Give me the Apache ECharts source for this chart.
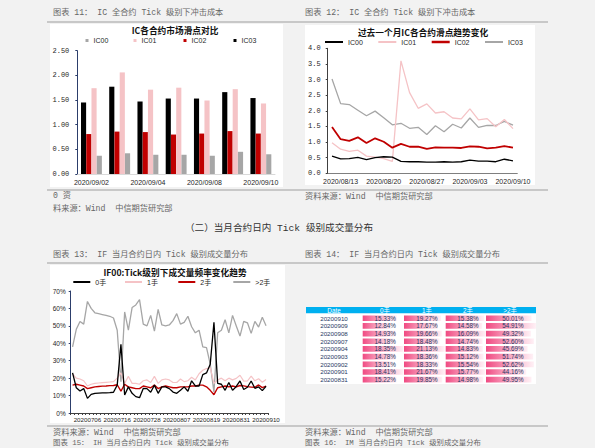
<!DOCTYPE html>
<html><head><meta charset="utf-8">
<script src="https://cdn.jsdelivr.net/npm/echarts/dist/echarts.min.js"></script>
<style>
html,body{margin:0;padding:0;}
body{width:595px;height:448px;background:#f2f2f2;position:relative;overflow:hidden;}
.t{position:absolute;white-space:pre;font-family:'Liberation Mono','Noto Sans CJK SC',monospace;font-size:8.2px;line-height:10px;color:#666;}
.h{font-size:9.6px;color:#333;line-height:12px;}
.cut{font-size:7.4px;line-height:8px;}
.ln{position:absolute;left:47px;width:501px;height:2px;background:#c8c8c8;}
.box{position:absolute;background:#fff;}
</style></head>
<body>
<div class="t" style="left:53px;top:8px">图表 11： IC 全合约 Tick 级别下冲击成本</div>
<div class="t" style="left:305px;top:8px">图表 12： IC 全合约 Tick 级别下冲击成本</div>
<div class="ln" style="top:21px"></div>
<div class="box" id="c1" style="left:50px;top:24px;width:233px;height:163px"></div>
<div class="box" id="c2" style="left:305px;top:25px;width:230px;height:160px"></div>
<div class="ln" style="top:189px"></div>
<div class="t" style="left:53px;top:191px">0 资</div>
<div class="t" style="left:53px;top:204px">料来源：Wind  中信期货研究部</div>
<div class="t" style="left:305px;top:192px">资料来源：Wind  中信期货研究部</div>
<div class="t h" style="left:185px;top:223px">（二）当月合约日内 Tick 级别成交量分布</div>
<div class="t" style="left:53px;top:250px">图表 13： IF 当月合约日内 Tick 级别成交量分布</div>
<div class="t" style="left:305px;top:250px">图表 14： IF 当月合约日内 Tick 级别成交量分布</div>
<div class="ln" style="top:262px"></div>
<div class="box" id="c3" style="left:50px;top:265px;width:235px;height:158px"></div>
<div class="box" id="c4" style="left:306px;top:307px;width:230px;height:77px"></div>
<div class="ln" style="top:425px"></div>
<div class="t" style="left:53px;top:428px">资料来源：Wind  中信期货研究部</div>
<div class="t" style="left:305px;top:428px">资料来源：Wind  中信期货研究部</div>
<div class="t cut" style="left:53px;top:439px">图表 15： IH 当月合约日内 Tick 级别成交量分布</div>
<div class="t cut" style="left:305px;top:439px">图表 16： IM 当月合约日内 Tick 级别成交量分布</div>
<script>
// ---------- Chart 1 data ----------
const cats1 = ['2020/09/02','2020/09/03','2020/09/04','2020/09/07','2020/09/08','2020/09/09','2020/09/10'];
const bar_IC00 = [0.37, 0.42, 0.39, 0.39, 0.37, 0.45, 0.40];
const bar_IC01 = [1.74, 2.06, 1.71, 1.75, 1.49, 1.72, 1.43];
const bar_IC02 = [0.81, 0.86, 0.85, 0.80, 0.82, 0.87, 0.82];
const bar_IC03 = [1.45, 1.77, 1.47, 1.53, 1.53, 1.66, 1.54];

// ---------- Chart 2 data ----------
const dates2 = ['2020/08/12','2020/08/13','2020/08/14','2020/08/17','2020/08/18','2020/08/19','2020/08/20','2020/08/21','2020/08/24','2020/08/25','2020/08/26','2020/08/27','2020/08/28','2020/08/31','2020/09/01','2020/09/02','2020/09/03','2020/09/04','2020/09/07','2020/09/08','2020/09/09','2020/09/10'];
const line_IC00 = [0.55,0.46,0.47,0.51,0.44,0.50,0.53,0.52,0.38,0.37,0.37,0.36,0.36,0.37,0.36,0.37,0.42,0.39,0.39,0.37,0.45,0.40];
const line_IC01 = [0.98,0.77,0.70,0.74,0.55,0.52,0.47,0.38,3.60,2.58,2.08,2.22,1.93,1.97,1.77,1.74,2.06,1.71,1.75,1.49,1.72,1.43];
const line_IC02 = [1.48,1.09,1.04,1.15,0.97,1.12,1.01,0.82,0.94,0.85,0.85,0.78,0.83,0.82,0.82,0.81,0.86,0.85,0.80,0.82,0.87,0.82];
const line_IC03 = [3.02,2.23,2.20,2.02,1.84,1.99,1.78,1.55,1.60,1.44,1.47,1.24,1.52,1.33,1.57,1.45,1.77,1.47,1.53,1.53,1.66,1.54];

// ---------- Chart 3 data ----------
const dates3 = ['20200630','20200701','20200702','20200703','20200706','20200707','20200708','20200709','20200710','20200713','20200714','20200715','20200716','20200717','20200720','20200721','20200722','20200723','20200724','20200727','20200728','20200729','20200730','20200731','20200803','20200804','20200805','20200806','20200807','20200810','20200811','20200812','20200813','20200814','20200817','20200818','20200819','20200820','20200821','20200824','20200825','20200826','20200827','20200828','20200831','20200901','20200902','20200903','20200904','20200907','20200908','20200909','20200910'];
const hand0 = [23,14.5,12.6,14,8.4,10.7,11.3,11.4,11.5,11.6,11.7,11.9,16,39.4,10.3,15,11.3,9.4,8.8,14.1,14,11.9,16,11.3,15,15,14,12,11.3,13,15,12.5,18.5,15.5,15.5,22,23,28,52,17,16.5,13,17.5,13,15.22,18.41,13.51,14.78,18.35,14.18,14.93,12.84,15.33];
const hand1 = [22.5,20,19.5,18.5,15.5,16.5,17,17.2,17.4,17.6,17.8,18,20,23,17,21,17,17,16.5,18.5,19,17.5,21,17,19,19.5,19,17.5,17.5,19.5,18,18.5,20.5,19,22.5,24.5,25.5,26,17,19,20,18.5,20,19,19.85,21.67,18.33,18.36,21.13,18.48,19.66,17.67,19.27];
const hand2 = [16,16.5,16,15.5,14,14.5,15,15.2,15.4,15.5,15.7,15.8,16.2,12.5,16.5,15,14.5,14,14,15.5,15,14.5,16,14,15,15.5,15,14.5,14.5,15,15,15,15.5,15.5,16,16,15,13,10.5,14.5,15,15.5,15,15.5,14.98,15.77,15.54,15.12,14.83,14.74,16.09,14.58,15.38];
const handMore = [38,48,52.5,51,64,60,57.5,57,56.5,56,55.5,54.5,47.5,18,58,47.5,60.5,62,65,51,50,56,47,59.5,50.5,50,50.5,53,57,51,52,55.5,49.5,46,47.5,38,37.5,28,12,46,47.5,53.5,46,56,49.95,44.16,52.62,51.74,45.69,52.60,49.32,54.91,50.01];

// ---------- Table data ----------
const tblHeader = ['Date','0手','1手','2手','>2手'];
const tblDates = ['20200910','20200909','20200908','20200907','20200904','20200903','20200902','20200901','20200831'];
const tbl0 = [15.33,12.84,14.93,14.18,18.35,14.78,13.51,18.41,15.22];
const tbl1 = [19.27,17.67,19.66,18.48,21.13,18.36,18.33,21.67,19.85];
const tbl2 = [15.38,14.58,16.09,14.74,14.83,15.12,15.54,15.77,14.98];
const tblMore = [50.01,54.91,49.32,52.60,45.69,51.74,52.62,44.16,49.95];

const SANS = "'Liberation Sans','Noto Sans CJK SC',sans-serif";
const MONO = "'Liberation Mono','Noto Sans CJK SC',monospace";
const CJK = "'Noto Sans CJK SC',sans-serif";
const BLACK='#000000', PINK='#f5c3c6', RED='#c00000', GRAY='#a6a6a6', NAVY='#2c3e6b';

function leg(name, left, top, w, h){
  return {data:[name], left:left, top:top, icon:'rect', itemWidth:w, itemHeight:h, padding:0, itemGap:0,
    selectedMode:false, itemStyle:{borderWidth:0},
    textStyle:{fontSize:7, color:'#262626', fontFamily:SANS}};
}
function titleOf(text, cx, top){
  return {text:text, left:cx, top:top, textAlign:'center', padding:0,
    textStyle:{fontSize:8.7, fontWeight:'bold', color:'#111', fontFamily:CJK}};
}

// ---------- Chart 1 ----------
const ch1 = echarts.init(document.getElementById('c1'), null, {renderer:'svg'});
ch1.setOption({
  animation:false,
  title: titleOf('IC各合约市场滑点对比', 125, 2),
  legend:[leg('IC00',35.5,13,3,3), leg('IC01',83.5,13,3,3), leg('IC02',133.5,13,3,3), leg('IC03',183.5,13,3,3)],
  grid:{left:27.3, right:8, top:26.7, bottom:13, outerBoundsMode:'none'},
  xAxis:{type:'category', data:cats1, axisLine:{lineStyle:{color:'#d9d9d9'}}, axisTick:{show:false},
    axisLabel:{interval:1, fontSize:7, color:'#262626', margin:5, fontFamily:SANS}},
  yAxis:{type:'value', min:0, max:2.5, interval:0.5, splitLine:{show:false},
    axisLine:{show:true, lineStyle:{color:NAVY}}, axisTick:{show:true, length:2, lineStyle:{color:NAVY}},
    axisLabel:{formatter:v=>v.toFixed(2), fontSize:7, color:'#262626', margin:8, fontFamily:MONO}},
  series:[
    {name:'IC03', type:'bar', data:bar_IC03, itemStyle:{color:BLACK}, barGap:'2%', barCategoryGap:'26%'},
    {name:'IC02', type:'bar', data:bar_IC02, itemStyle:{color:RED}, barGap:'2%', barCategoryGap:'26%'},
    {name:'IC01', type:'bar', data:bar_IC01, itemStyle:{color:PINK}, barGap:'2%', barCategoryGap:'26%'},
    {name:'IC00', type:'bar', data:bar_IC00, itemStyle:{color:GRAY}, barGap:'2%', barCategoryGap:'26%'}
  ]
});

// ---------- Chart 2 ----------
function lineS(name, data, color, w){
  return {name:name, type:'line', data:data, symbol:'none', itemStyle:{color:color}, lineStyle:{color:color, width:w}};
}
const ch2 = echarts.init(document.getElementById('c2'), null, {renderer:'svg'});
ch2.setOption({
  animation:false,
  title: titleOf('过去一个月IC各合约滑点趋势变化', 118, 3),
  legend:[leg('IC00',20,13.5,18,2), leg('IC01',73.3,13.5,18,2), leg('IC02',126.7,13.5,18,2.5), leg('IC03',180,13.5,18,2)],
  grid:{left:22.7, right:17.7, top:23.3, bottom:11.7, outerBoundsMode:'none'},
  xAxis:{type:'category', data:dates2, boundaryGap:true, axisLine:{lineStyle:{color:'#7f7f7f'}}, axisTick:{show:false},
    axisLabel:{interval:(i)=> (i-1)%5===0, fontSize:7, color:'#262626', margin:5, fontFamily:SANS}},
  yAxis:{type:'value', min:0, max:4, interval:0.5, splitLine:{show:false},
    axisLine:{show:true, lineStyle:{color:'#404040'}}, axisTick:{show:true, length:2, lineStyle:{color:'#404040'}},
    axisLabel:{formatter:v=>v.toFixed(1), fontSize:7, color:'#262626', margin:7, fontFamily:MONO}},
  series:[
    lineS('IC03', line_IC03, GRAY, 1.3),
    lineS('IC01', line_IC01, PINK, 1.3),
    lineS('IC02', line_IC02, RED, 1.8),
    lineS('IC00', line_IC00, BLACK, 1.3)
  ]
});

// ---------- Chart 3 ----------
const ch3 = echarts.init(document.getElementById('c3'), null, {renderer:'svg'});
ch3.setOption({
  animation:false,
  title: titleOf('IF00:Tick级别下成交量频率变化趋势', 125, 3),
  legend:[leg('0手',23.3,13.5,17,2), leg('1手',75,13.5,17,2), leg('2手',128.3,13.5,17,2), leg('>2手',183.3,13.5,17,2)],
  grid:{left:20.7, right:17.1, top:26, bottom:10, outerBoundsMode:'none'},
  xAxis:{type:'category', data:dates3, boundaryGap:true, axisLine:{lineStyle:{color:'#404040'}},
    axisTick:{show:true, interval:0, length:2, lineStyle:{color:'#404040'}},
    axisLabel:{interval:(i)=> i>=4 && (i-4)%8===0, fontSize:6.2, color:'#262626', margin:3, fontFamily:SANS}},
  yAxis:{type:'value', min:0, max:70, interval:10, splitLine:{show:false},
    axisLine:{show:true, lineStyle:{color:NAVY}}, axisTick:{show:true, length:2, lineStyle:{color:NAVY}},
    axisLabel:{formatter:'{value}%', fontSize:6.5, color:'#262626', margin:5, fontFamily:SANS}},
  series:[
    lineS('>2手', handMore, GRAY, 1.3),
    lineS('1手', hand1, PINK, 1.2),
    lineS('2手', hand2, RED, 1.4),
    lineS('0手', hand0, BLACK, 1.3)
  ]
});

// ---------- Table (data bars) ----------
const ch4 = echarts.init(document.getElementById('c4'), null, {renderer:'svg'});
const cols = [tbl0, tbl1, tbl2, tblMore];
const colLeft = [56.7, 98, 139.7, 180];
const colW = [41, 41.7, 40.3, 50];
const headX = [28, 79, 121, 162, 204];
const grids=[], xs=[], ys=[], ss=[];
cols.forEach((arr, k)=>{
  grids.push({left:colLeft[k], width:colW[k], top:7.4, height:69.1, outerBoundsMode:'none'});
  xs.push({type:'value', gridIndex:k, min:0, max:Math.max.apply(null, arr), show:false});
  ys.push({type:'category', gridIndex:k, data:tblDates, inverse:true,
    axisLine:{show:false}, axisTick:{show:false}, splitLine:{show:false},
    axisLabel: k===0 ? {show:true, interval:0, align:'center', margin:28.7, fontSize:6.2, color:'#1f3864', fontFamily:SANS} : {show:false}});
  ss.push({type:'bar', xAxisIndex:k, yAxisIndex:k, data:arr, barCategoryGap:'26%',
    itemStyle:{color:new echarts.graphic.LinearGradient(0,0,1,0,[{offset:0,color:'#f04a82'},{offset:0.45,color:'#f7a0bd'},{offset:1,color:'#fff1f6'}])},
    label:{show:true, position:[colW[k]/2 + 2, '50%'], align:'center', verticalAlign:'middle',
      formatter:p=>p.value.toFixed(2)+'%', fontSize:6.3, color:'#1f3864', fontFamily:SANS}});
});
const graphics = [{type:'rect', shape:{x:0, y:0, width:230, height:6.3}, style:{fill:'#00b0f0'}, z:10}];
tblHeader.forEach((h,i)=>{
  graphics.push({type:'text', x:headX[i], y:3.3, z:11, style:{text:h, fill:'#fff', fontSize:6.3, fontFamily:SANS, align:'center', verticalAlign:'middle'}});
});
ch4.setOption({animation:false, grid:grids, xAxis:xs, yAxis:ys, series:ss, graphic:graphics});
</script>
</body></html>
